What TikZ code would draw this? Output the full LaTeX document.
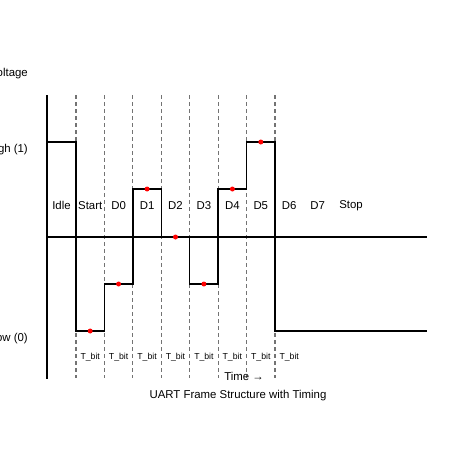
\documentclass[tikz,border=0pt]{standalone}
\usepackage{fontspec}
\setmainfont{Liberation Sans}
\begin{document}
\begin{tikzpicture}[x=1pt,y=-1pt,
  axis/.style={line width=1.5pt,black},
  sig/.style={line width=1.5pt,black},
  grid/.style={black!55,dash pattern=on 4pt off 3pt,line width=1.1pt},
  dot/.style={circle,fill=red,inner sep=0pt,minimum size=5pt},
  lbl/.style={font=\fontsize{11.4}{13}\selectfont,inner sep=0pt},
  tb/.style={font=\fontsize{8.7}{10}\selectfont,inner sep=0pt}]
\useasboundingbox (0,0) rectangle (474,474);
% dashed bit boundaries
\foreach \i in {0,...,7} {
  \pgfmathsetmacro{\xx}{76+28.43*\i}
  \coordinate (gt\i) at (\xx,95);
  \coordinate (gb\i) at (\xx,378);
  \draw[grid] (gt\i) -- (gb\i);
}
% axes
\coordinate (ytop) at (47,95);
\coordinate (ybot) at (47,379);
\coordinate (xl) at (47,237);
\coordinate (xr) at (427,237);
\draw[axis] (ytop) -- (ybot);
\draw[axis] (xl) -- (xr);
% signal
\coordinate (s0) at (47,142);
\draw[sig] (s0) -- (76,142) -- (76,331) -- (104.4,331) -- (104.4,284) -- (132.9,284)
  -- (132.9,189) -- (161.3,189) -- (161.3,237) -- (189.7,237) -- (189.7,284)
  -- (218.2,284) -- (218.2,189) -- (246.6,189) -- (246.6,142) -- (275,142)
  -- (275,331) -- (427,331);
% sample dots
\node[dot] (p0) at (90.2,331) {};
\node[dot] (p1) at (118.6,284) {};
\node[dot] (p2) at (147.1,189) {};
\node[dot] (p3) at (175.5,237) {};
\node[dot] (p4) at (203.9,284) {};
\node[dot] (p5) at (232.4,189) {};
\node[dot] (p6) at (260.8,142) {};
% field labels
\node[lbl] (lIdle) at (61.5,205.5) {Idle};
\node[lbl] (lStart) at (90.2,205.5) {Start};
\node[lbl] (lD0) at (118.6,205.5) {D0};
\node[lbl] (lD1) at (147.1,205.5) {D1};
\node[lbl] (lD2) at (175.5,205.5) {D2};
\node[lbl] (lD3) at (203.9,205.5) {D3};
\node[lbl] (lD4) at (232.4,205.5) {D4};
\node[lbl] (lD5) at (260.8,205.5) {D5};
\node[lbl] (lD6) at (289.2,205.5) {D6};
\node[lbl] (lD7) at (317.7,205.5) {D7};
\node[lbl] (lStop) at (351,205.5) {Stop};
% T_bit labels
\foreach \i in {0,...,7} {
  \pgfmathsetmacro{\xx}{90.2+28.43*\i}
  \node[tb] (tb\i) at (\xx,357) {T\_bit};
}
% axis labels
\node[lbl,anchor=east] (volt) at (28,73.5) {Voltage};
\node[lbl,anchor=east] (high) at (28,149.5) {High (1)};
\node[lbl,anchor=east] (low) at (28,338.5) {Low (0)};
\node[lbl] (time) at (244,376) {Time →};
\node[lbl] (title) at (238,395.5) {UART Frame Structure with Timing};
\end{tikzpicture}
\end{document}
